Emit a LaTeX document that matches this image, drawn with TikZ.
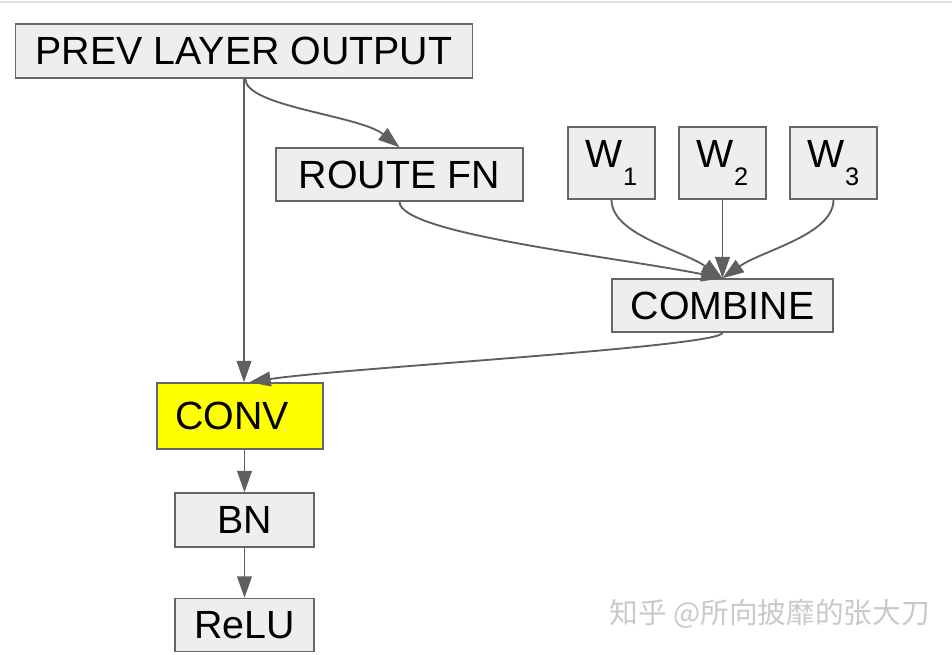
\documentclass[tikz,border=0pt]{standalone}
\usepackage{fontspec}
\setmainfont{Liberation Sans}
\newfontfamily\cjk{Noto Sans CJK SC}
\usepackage{xcolor}
\usetikzlibrary{arrows.meta}
\usetikzlibrary{calc}
\definecolor{boxfill}{HTML}{EEEEEE}
\definecolor{boxline}{HTML}{666666}
\definecolor{arrline}{HTML}{5F5F5F}
\definecolor{convfill}{HTML}{FFFF00}
\newcommand{\wsub}[1]{W\raisebox{-0.45em}{\fontsize{19}{19}\selectfont #1}}

\begin{document}
\begin{tikzpicture}[x=0.75pt,y=-0.75pt,
    box/.style={draw=boxline, fill=boxfill, line width=1.1pt, inner sep=0pt,
      font=\fontsize{29.5}{34}\selectfont},
    arr/.style={draw=arrline, line width=1.4pt, -{Triangle[length=16pt,width=11pt]}}]
    \useasboundingbox (0,0) rectangle (952,654);
    \draw[gray!25, line width=1pt] (0,2) -- (952,2);
    \node[box, minimum width=342.75pt, minimum height=40.5pt] (prev) at (244,51) {PREV LAYER OUTPUT};
    \node[box, minimum width=185.25pt, minimum height=39.75pt] (route) at (399.5,174.5) {ROUTE FN};
    \node[box, minimum width=65.25pt, minimum height=54pt] (w1) at (611.5,163) {\wsub{1}};
    \node[box, minimum width=65.25pt, minimum height=54pt] (w2) at (722.5,163) {\wsub{2}};
    \node[box, minimum width=65.25pt, minimum height=54pt] (w3) at (833.5,163) {\wsub{3}};
    \node[box, minimum width=165.75pt, minimum height=39.75pt] (comb) at (722.5,305.5) {COMBINE};
    \node[box, fill=convfill, minimum width=124.5pt, minimum height=49.5pt] (conv) at (240,416) {\hspace*{-12pt}CONV};
    \node[box, minimum width=104.25pt, minimum height=40.5pt] (bn) at (244.5,520) {BN};
    \node[box, minimum width=104.25pt, minimum height=39.75pt] (relu) at (244.5,625) {ReLU};
    \node[text=gray!42, font=\cjk\fontsize{21.5}{22}\selectfont, anchor=west] (mark) at (605,614) {知乎 @所向披靡的张大刀};
    % left column
    \draw [arr] (prev.south) -- (prev.south |- conv.north);
    \draw [arr] ([xshift=1pt]prev.south) .. controls +(0,28) and +(-40,-32) .. (route.north);
    \draw [arr] (conv.south -| bn.north) -- (bn.north);
    \draw [arr] (bn) -- (relu);
    % into combine
    \draw [arr] (route.south) .. controls +(0,32) and +(-110,-22) .. (comb.north);
    \draw [arr] (w1.south) .. controls +(0,35) and +(-40,-28) .. (comb.north);
    \draw [arr] (w2) -- (comb);
    \draw [arr] (w3.south) .. controls +(0,35) and +(40,-28) .. (comb.north);
    \draw [arr] (comb.south) .. controls +(0,14) and +(90,-14) .. ([xshift=7pt]conv.north);
  \end{tikzpicture}
\end{document}
